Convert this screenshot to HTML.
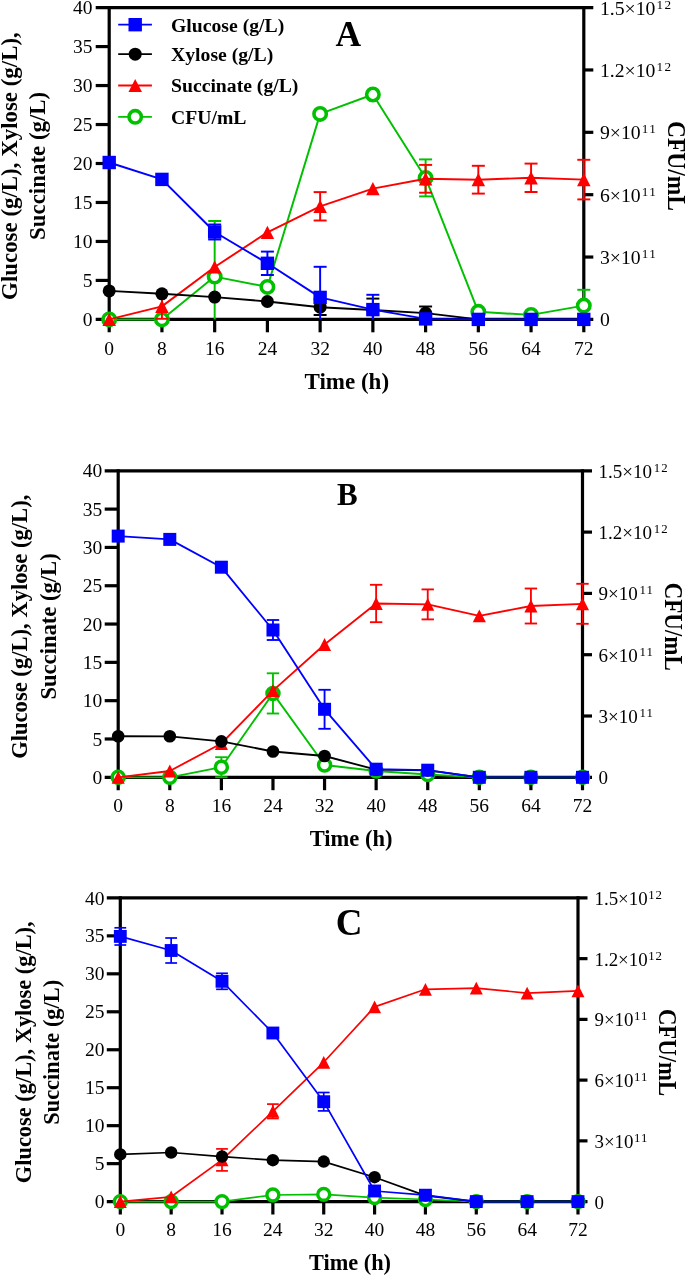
<!DOCTYPE html><html><head><meta charset="utf-8"><title>Fermentation time course</title><style>html,body{margin:0;padding:0;background:#fff;overflow:hidden}svg{display:block}text{font-family:'Liberation Serif', 'Times New Roman', serif}</style></head><body>
<svg width="685" height="1275" viewBox="0 0 685 1275">
<rect width="685" height="1275" fill="#fff"/>
<g>
<g stroke="#000" stroke-width="3.2" fill="none">
<line x1="109.2" y1="6" x2="109.2" y2="332.3"/>
<line x1="583.8" y1="6" x2="583.8" y2="332.3"/>
<line x1="95.7" y1="7.6" x2="593.3" y2="7.6"/>
<line x1="95.7" y1="319.4" x2="593.3" y2="319.4"/>
<line x1="95.7" y1="280.42" x2="109.2" y2="280.42"/>
<line x1="95.7" y1="241.45" x2="109.2" y2="241.45"/>
<line x1="95.7" y1="202.47" x2="109.2" y2="202.47"/>
<line x1="95.7" y1="163.5" x2="109.2" y2="163.5"/>
<line x1="95.7" y1="124.53" x2="109.2" y2="124.53"/>
<line x1="95.7" y1="85.55" x2="109.2" y2="85.55"/>
<line x1="95.7" y1="46.57" x2="109.2" y2="46.57"/>
<line x1="583.8" y1="257.04" x2="593.3" y2="257.04"/>
<line x1="583.8" y1="194.68" x2="593.3" y2="194.68"/>
<line x1="583.8" y1="132.32" x2="593.3" y2="132.32"/>
<line x1="583.8" y1="69.96" x2="593.3" y2="69.96"/>
<line x1="161.93" y1="319.4" x2="161.93" y2="332.3"/>
<line x1="214.67" y1="319.4" x2="214.67" y2="332.3"/>
<line x1="267.4" y1="319.4" x2="267.4" y2="332.3"/>
<line x1="320.13" y1="319.4" x2="320.13" y2="332.3"/>
<line x1="372.87" y1="319.4" x2="372.87" y2="332.3"/>
<line x1="425.6" y1="319.4" x2="425.6" y2="332.3"/>
<line x1="478.33" y1="319.4" x2="478.33" y2="332.3"/>
<line x1="531.07" y1="319.4" x2="531.07" y2="332.3"/>
</g>
<g font-size="19.5" text-anchor="end" fill="#000">
<text x="92.6" y="326">0</text>
<text x="92.6" y="287.02">5</text>
<text x="92.6" y="248.05">10</text>
<text x="92.6" y="209.07">15</text>
<text x="92.6" y="170.1">20</text>
<text x="92.6" y="131.12">25</text>
<text x="92.6" y="92.15">30</text>
<text x="92.6" y="53.17">35</text>
<text x="92.6" y="14.2">40</text>
</g>
<g font-size="19.5" text-anchor="middle" fill="#000">
<text x="109.2" y="354.7">0</text>
<text x="161.93" y="354.7">8</text>
<text x="214.67" y="354.7">16</text>
<text x="267.4" y="354.7">24</text>
<text x="320.13" y="354.7">32</text>
<text x="372.87" y="354.7">40</text>
<text x="425.6" y="354.7">48</text>
<text x="478.33" y="354.7">56</text>
<text x="531.07" y="354.7">64</text>
<text x="583.8" y="354.7">72</text>
</g>
<g font-size="19.7" fill="#000">
<text x="600" y="326.4">0</text>
<text x="600" y="264.04">3×10<tspan font-size="13.2" dy="-6" dx="1.2" letter-spacing="1.4">11</tspan></text>
<text x="600" y="201.68">6×10<tspan font-size="13.2" dy="-6" dx="1.2" letter-spacing="1.4">11</tspan></text>
<text x="600" y="139.32">9×10<tspan font-size="13.2" dy="-6" dx="1.2" letter-spacing="1.4">11</tspan></text>
<text x="600" y="76.96">1.2×10<tspan font-size="13.2" dy="-6" dx="1.2" letter-spacing="1.4">12</tspan></text>
<text x="600" y="14.6">1.5×10<tspan font-size="13.2" dy="-6" dx="1.2" letter-spacing="1.4">12</tspan></text>
</g>
<text x="346.8" y="389.3" font-size="23" font-weight="bold" text-anchor="middle">Time (h)</text>
<text x="348.3" y="45.8" font-size="35.5" font-weight="bold" text-anchor="middle">A</text>
<text transform="translate(16.6,166.05) rotate(-90)" font-size="22.9" font-weight="bold" text-anchor="middle">Glucose (g/L), Xylose (g/L),</text>
<text transform="translate(45,165.85) rotate(-90)" font-size="22.9" font-weight="bold" text-anchor="middle">Succinate (g/L)</text>
<text transform="translate(667.6,166) rotate(90) scale(1,1.07)" font-size="23.5" font-weight="bold" text-anchor="middle">CFU/mL</text>
<polyline points="109.2,319.4 161.93,319.4 214.67,276.6 267.4,286.9 320.13,113.9 372.87,94.5 425.6,177.9 478.33,311.8 531.07,314.9 583.8,305.6" fill="none" stroke="#00c000" stroke-width="1.95" stroke-linejoin="round"/>
<line x1="214.67" y1="221" x2="214.67" y2="319.4" stroke="#00c000" stroke-width="1.95"/>
<line x1="208.17" y1="221" x2="221.17" y2="221" stroke="#00c000" stroke-width="1.95"/>
<line x1="425.6" y1="159.4" x2="425.6" y2="196.4" stroke="#00c000" stroke-width="1.95"/>
<line x1="419.1" y1="159.4" x2="432.1" y2="159.4" stroke="#00c000" stroke-width="1.95"/>
<line x1="419.1" y1="196.4" x2="432.1" y2="196.4" stroke="#00c000" stroke-width="1.95"/>
<line x1="583.8" y1="289.8" x2="583.8" y2="319.4" stroke="#00c000" stroke-width="1.95"/>
<line x1="577.3" y1="289.8" x2="590.3" y2="289.8" stroke="#00c000" stroke-width="1.95"/>
<circle cx="109.2" cy="319.4" r="6.2" fill="#fff" stroke="#00c000" stroke-width="3.6"/>
<circle cx="161.93" cy="319.4" r="6.2" fill="#fff" stroke="#00c000" stroke-width="3.6"/>
<circle cx="214.67" cy="276.6" r="6.2" fill="#fff" stroke="#00c000" stroke-width="3.6"/>
<circle cx="267.4" cy="286.9" r="6.2" fill="#fff" stroke="#00c000" stroke-width="3.6"/>
<circle cx="320.13" cy="113.9" r="6.2" fill="#fff" stroke="#00c000" stroke-width="3.6"/>
<circle cx="372.87" cy="94.5" r="6.2" fill="#fff" stroke="#00c000" stroke-width="3.6"/>
<circle cx="425.6" cy="177.9" r="6.2" fill="#fff" stroke="#00c000" stroke-width="3.6"/>
<circle cx="478.33" cy="311.8" r="6.2" fill="#fff" stroke="#00c000" stroke-width="3.6"/>
<circle cx="531.07" cy="314.9" r="6.2" fill="#fff" stroke="#00c000" stroke-width="3.6"/>
<circle cx="583.8" cy="305.6" r="6.2" fill="#fff" stroke="#00c000" stroke-width="3.6"/>
<polyline points="109.2,319.4 161.93,306.4 214.67,267 267.4,232.4 320.13,206.3 372.87,188.6 425.6,178.8 478.33,179.7 531.07,177.8 583.8,179.6" fill="none" stroke="#ff0000" stroke-width="1.95" stroke-linejoin="round"/>
<line x1="161.93" y1="294" x2="161.93" y2="318.8" stroke="#ff0000" stroke-width="1.95"/>
<line x1="155.43" y1="294" x2="168.43" y2="294" stroke="#ff0000" stroke-width="1.95"/>
<line x1="155.43" y1="318.8" x2="168.43" y2="318.8" stroke="#ff0000" stroke-width="1.95"/>
<line x1="320.13" y1="192.1" x2="320.13" y2="220.5" stroke="#ff0000" stroke-width="1.95"/>
<line x1="313.63" y1="192.1" x2="326.63" y2="192.1" stroke="#ff0000" stroke-width="1.95"/>
<line x1="313.63" y1="220.5" x2="326.63" y2="220.5" stroke="#ff0000" stroke-width="1.95"/>
<line x1="425.6" y1="164.9" x2="425.6" y2="192.7" stroke="#ff0000" stroke-width="1.95"/>
<line x1="419.1" y1="164.9" x2="432.1" y2="164.9" stroke="#ff0000" stroke-width="1.95"/>
<line x1="419.1" y1="192.7" x2="432.1" y2="192.7" stroke="#ff0000" stroke-width="1.95"/>
<line x1="478.33" y1="165.8" x2="478.33" y2="193.6" stroke="#ff0000" stroke-width="1.95"/>
<line x1="471.83" y1="165.8" x2="484.83" y2="165.8" stroke="#ff0000" stroke-width="1.95"/>
<line x1="471.83" y1="193.6" x2="484.83" y2="193.6" stroke="#ff0000" stroke-width="1.95"/>
<line x1="531.07" y1="163.6" x2="531.07" y2="192" stroke="#ff0000" stroke-width="1.95"/>
<line x1="524.57" y1="163.6" x2="537.57" y2="163.6" stroke="#ff0000" stroke-width="1.95"/>
<line x1="524.57" y1="192" x2="537.57" y2="192" stroke="#ff0000" stroke-width="1.95"/>
<line x1="583.8" y1="159.8" x2="583.8" y2="199.4" stroke="#ff0000" stroke-width="1.95"/>
<line x1="577.3" y1="159.8" x2="590.3" y2="159.8" stroke="#ff0000" stroke-width="1.95"/>
<line x1="577.3" y1="199.4" x2="590.3" y2="199.4" stroke="#ff0000" stroke-width="1.95"/>
<polygon points="109.2,312.8 115.95,326 102.45,326" fill="#ff0000"/>
<polygon points="161.93,299.8 168.68,313 155.18,313" fill="#ff0000"/>
<polygon points="214.67,260.4 221.42,273.6 207.92,273.6" fill="#ff0000"/>
<polygon points="267.4,225.8 274.15,239 260.65,239" fill="#ff0000"/>
<polygon points="320.13,199.7 326.88,212.9 313.38,212.9" fill="#ff0000"/>
<polygon points="372.87,182 379.62,195.2 366.12,195.2" fill="#ff0000"/>
<polygon points="425.6,172.2 432.35,185.4 418.85,185.4" fill="#ff0000"/>
<polygon points="478.33,173.1 485.08,186.3 471.58,186.3" fill="#ff0000"/>
<polygon points="531.07,171.2 537.82,184.4 524.32,184.4" fill="#ff0000"/>
<polygon points="583.8,173 590.55,186.2 577.05,186.2" fill="#ff0000"/>
<polyline points="109.2,290.9 161.93,293.8 214.67,297.1 267.4,301.5 320.13,307.2 372.87,310 425.6,313.1 478.33,319.4 531.07,319.4 583.8,319.4" fill="none" stroke="#000000" stroke-width="1.95" stroke-linejoin="round"/>
<line x1="320.13" y1="299.4" x2="320.13" y2="315" stroke="#000000" stroke-width="1.95"/>
<line x1="313.63" y1="299.4" x2="326.63" y2="299.4" stroke="#000000" stroke-width="1.95"/>
<line x1="313.63" y1="315" x2="326.63" y2="315" stroke="#000000" stroke-width="1.95"/>
<line x1="372.87" y1="298.6" x2="372.87" y2="319.4" stroke="#000000" stroke-width="1.95"/>
<line x1="366.37" y1="298.6" x2="379.37" y2="298.6" stroke="#000000" stroke-width="1.95"/>
<line x1="425.6" y1="306.5" x2="425.6" y2="319.4" stroke="#000000" stroke-width="1.95"/>
<line x1="419.1" y1="306.5" x2="432.1" y2="306.5" stroke="#000000" stroke-width="1.95"/>
<circle cx="109.2" cy="290.9" r="6.5" fill="#000000"/>
<circle cx="161.93" cy="293.8" r="6.5" fill="#000000"/>
<circle cx="214.67" cy="297.1" r="6.5" fill="#000000"/>
<circle cx="267.4" cy="301.5" r="6.5" fill="#000000"/>
<circle cx="320.13" cy="307.2" r="6.5" fill="#000000"/>
<circle cx="372.87" cy="310" r="6.5" fill="#000000"/>
<circle cx="425.6" cy="313.1" r="6.5" fill="#000000"/>
<circle cx="478.33" cy="319.4" r="6.5" fill="#000000"/>
<circle cx="531.07" cy="319.4" r="6.5" fill="#000000"/>
<circle cx="583.8" cy="319.4" r="6.5" fill="#000000"/>
<polyline points="109.2,162.5 161.93,179.4 214.67,232 267.4,263.3 320.13,297.4 372.87,309.6 425.6,318.9 478.33,319.4 531.07,319.4 583.8,319.4" fill="none" stroke="#0000ff" stroke-width="1.95" stroke-linejoin="round"/>
<line x1="214.67" y1="224.5" x2="214.67" y2="239.5" stroke="#0000ff" stroke-width="1.95"/>
<line x1="208.17" y1="224.5" x2="221.17" y2="224.5" stroke="#0000ff" stroke-width="1.95"/>
<line x1="208.17" y1="239.5" x2="221.17" y2="239.5" stroke="#0000ff" stroke-width="1.95"/>
<line x1="267.4" y1="251.6" x2="267.4" y2="275" stroke="#0000ff" stroke-width="1.95"/>
<line x1="260.9" y1="251.6" x2="273.9" y2="251.6" stroke="#0000ff" stroke-width="1.95"/>
<line x1="260.9" y1="275" x2="273.9" y2="275" stroke="#0000ff" stroke-width="1.95"/>
<line x1="320.13" y1="266.8" x2="320.13" y2="319.4" stroke="#0000ff" stroke-width="1.95"/>
<line x1="313.63" y1="266.8" x2="326.63" y2="266.8" stroke="#0000ff" stroke-width="1.95"/>
<line x1="372.87" y1="294.8" x2="372.87" y2="319.4" stroke="#0000ff" stroke-width="1.95"/>
<line x1="366.37" y1="294.8" x2="379.37" y2="294.8" stroke="#0000ff" stroke-width="1.95"/>
<rect x="102.5" y="155.8" width="13.4" height="13.4" fill="#0000ff"/>
<rect x="155.23" y="172.7" width="13.4" height="13.4" fill="#0000ff"/>
<rect x="207.97" y="225.3" width="13.4" height="13.4" fill="#0000ff"/>
<rect x="260.7" y="256.6" width="13.4" height="13.4" fill="#0000ff"/>
<rect x="313.43" y="290.7" width="13.4" height="13.4" fill="#0000ff"/>
<rect x="366.17" y="302.9" width="13.4" height="13.4" fill="#0000ff"/>
<rect x="418.9" y="312.2" width="13.4" height="13.4" fill="#0000ff"/>
<rect x="471.63" y="312.7" width="13.4" height="13.4" fill="#0000ff"/>
<rect x="524.37" y="312.7" width="13.4" height="13.4" fill="#0000ff"/>
<rect x="577.1" y="312.7" width="13.4" height="13.4" fill="#0000ff"/>
<line x1="118.2" y1="24.7" x2="151.9" y2="24.7" stroke="#0000ff" stroke-width="1.8"/>
<rect x="128.5" y="18" width="13.4" height="13.4" fill="#0000ff"/>
<text x="171" y="31.5" font-size="19.7" font-weight="bold">Glucose (g/L)</text>
<line x1="118.2" y1="54.2" x2="151.9" y2="54.2" stroke="#000000" stroke-width="1.8"/>
<circle cx="135.2" cy="54.2" r="6.5" fill="#000000"/>
<text x="171" y="61" font-size="19.7" font-weight="bold">Xylose (g/L)</text>
<line x1="118.2" y1="85.5" x2="151.9" y2="85.5" stroke="#ff0000" stroke-width="1.8"/>
<polygon points="135.2,78.9 141.95,92.1 128.45,92.1" fill="#ff0000"/>
<text x="171" y="92.3" font-size="19.7" font-weight="bold">Succinate (g/L)</text>
<line x1="118.2" y1="116.8" x2="151.9" y2="116.8" stroke="#00c000" stroke-width="1.8"/>
<circle cx="135.2" cy="116.8" r="6.2" fill="#fff" stroke="#00c000" stroke-width="3.6"/>
<text x="171" y="123.6" font-size="19.7" font-weight="bold">CFU/mL</text>
</g>
<g>
<g stroke="#000" stroke-width="3.2" fill="none">
<line x1="118.2" y1="469.2" x2="118.2" y2="790.2"/>
<line x1="582.5" y1="469.2" x2="582.5" y2="790.2"/>
<line x1="104.7" y1="470.8" x2="592" y2="470.8"/>
<line x1="104.7" y1="777.3" x2="592" y2="777.3"/>
<line x1="104.7" y1="738.99" x2="118.2" y2="738.99"/>
<line x1="104.7" y1="700.67" x2="118.2" y2="700.67"/>
<line x1="104.7" y1="662.36" x2="118.2" y2="662.36"/>
<line x1="104.7" y1="624.05" x2="118.2" y2="624.05"/>
<line x1="104.7" y1="585.74" x2="118.2" y2="585.74"/>
<line x1="104.7" y1="547.42" x2="118.2" y2="547.42"/>
<line x1="104.7" y1="509.11" x2="118.2" y2="509.11"/>
<line x1="582.5" y1="716" x2="592" y2="716"/>
<line x1="582.5" y1="654.7" x2="592" y2="654.7"/>
<line x1="582.5" y1="593.4" x2="592" y2="593.4"/>
<line x1="582.5" y1="532.1" x2="592" y2="532.1"/>
<line x1="169.79" y1="777.3" x2="169.79" y2="790.2"/>
<line x1="221.38" y1="777.3" x2="221.38" y2="790.2"/>
<line x1="272.97" y1="777.3" x2="272.97" y2="790.2"/>
<line x1="324.56" y1="777.3" x2="324.56" y2="790.2"/>
<line x1="376.14" y1="777.3" x2="376.14" y2="790.2"/>
<line x1="427.73" y1="777.3" x2="427.73" y2="790.2"/>
<line x1="479.32" y1="777.3" x2="479.32" y2="790.2"/>
<line x1="530.91" y1="777.3" x2="530.91" y2="790.2"/>
</g>
<g font-size="19.5" text-anchor="end" fill="#000">
<text x="102.3" y="783.9">0</text>
<text x="102.3" y="745.59">5</text>
<text x="102.3" y="707.27">10</text>
<text x="102.3" y="668.96">15</text>
<text x="102.3" y="630.65">20</text>
<text x="102.3" y="592.34">25</text>
<text x="102.3" y="554.02">30</text>
<text x="102.3" y="515.71">35</text>
<text x="102.3" y="477.4">40</text>
</g>
<g font-size="19.5" text-anchor="middle" fill="#000">
<text x="118.2" y="812">0</text>
<text x="169.79" y="812">8</text>
<text x="221.38" y="812">16</text>
<text x="272.97" y="812">24</text>
<text x="324.56" y="812">32</text>
<text x="376.14" y="812">40</text>
<text x="427.73" y="812">48</text>
<text x="479.32" y="812">56</text>
<text x="530.91" y="812">64</text>
<text x="582.5" y="812">72</text>
</g>
<g font-size="19" fill="#000">
<text x="598.5" y="784.3">0</text>
<text x="598.5" y="723">3×10<tspan font-size="12.8" dy="-6" dx="1.8" letter-spacing="1">11</tspan></text>
<text x="598.5" y="661.7">6×10<tspan font-size="12.8" dy="-6" dx="1.8" letter-spacing="1">11</tspan></text>
<text x="598.5" y="600.4">9×10<tspan font-size="12.8" dy="-6" dx="1.8" letter-spacing="1">11</tspan></text>
<text x="598.5" y="539.1">1.2×10<tspan font-size="12.8" dy="-6" dx="1.8" letter-spacing="1">12</tspan></text>
<text x="598.5" y="477.8">1.5×10<tspan font-size="12.8" dy="-6" dx="1.8" letter-spacing="1">12</tspan></text>
</g>
<text x="351.1" y="846.2" font-size="22.5" font-weight="bold" text-anchor="middle">Time (h)</text>
<text x="347.4" y="504.8" font-size="31" font-weight="bold" text-anchor="middle">B</text>
<text transform="translate(27,626.75) rotate(-90)" font-size="22.6" font-weight="bold" text-anchor="middle">Glucose (g/L), Xylose (g/L),</text>
<text transform="translate(56.1,626.45) rotate(-90)" font-size="22.6" font-weight="bold" text-anchor="middle">Succinate (g/L)</text>
<text transform="translate(664.9,626.7) rotate(90) scale(1,1.07)" font-size="23" font-weight="bold" text-anchor="middle">CFU/mL</text>
<polyline points="118.2,777.3 169.79,777.3 221.38,767.2 272.97,693.4 324.56,765 376.14,771 427.73,774.5 479.32,777.3 530.91,777.3 582.5,777.3" fill="none" stroke="#00c000" stroke-width="1.85" stroke-linejoin="round"/>
<line x1="221.38" y1="757.2" x2="221.38" y2="777.2" stroke="#00c000" stroke-width="1.85"/>
<line x1="215.18" y1="757.2" x2="227.58" y2="757.2" stroke="#00c000" stroke-width="1.85"/>
<line x1="215.18" y1="777.2" x2="227.58" y2="777.2" stroke="#00c000" stroke-width="1.85"/>
<line x1="272.97" y1="673.3" x2="272.97" y2="713.5" stroke="#00c000" stroke-width="1.85"/>
<line x1="266.77" y1="673.3" x2="279.17" y2="673.3" stroke="#00c000" stroke-width="1.85"/>
<line x1="266.77" y1="713.5" x2="279.17" y2="713.5" stroke="#00c000" stroke-width="1.85"/>
<circle cx="118.2" cy="777.3" r="6.01" fill="#fff" stroke="#00c000" stroke-width="3.49"/>
<circle cx="169.79" cy="777.3" r="6.01" fill="#fff" stroke="#00c000" stroke-width="3.49"/>
<circle cx="221.38" cy="767.2" r="6.01" fill="#fff" stroke="#00c000" stroke-width="3.49"/>
<circle cx="272.97" cy="693.4" r="6.01" fill="#fff" stroke="#00c000" stroke-width="3.49"/>
<circle cx="324.56" cy="765" r="6.01" fill="#fff" stroke="#00c000" stroke-width="3.49"/>
<circle cx="376.14" cy="771" r="6.01" fill="#fff" stroke="#00c000" stroke-width="3.49"/>
<circle cx="427.73" cy="774.5" r="6.01" fill="#fff" stroke="#00c000" stroke-width="3.49"/>
<circle cx="479.32" cy="777.3" r="6.01" fill="#fff" stroke="#00c000" stroke-width="3.49"/>
<circle cx="530.91" cy="777.3" r="6.01" fill="#fff" stroke="#00c000" stroke-width="3.49"/>
<circle cx="582.5" cy="777.3" r="6.01" fill="#fff" stroke="#00c000" stroke-width="3.49"/>
<polyline points="118.2,777.3 169.79,771 221.38,743.5 272.97,690.6 324.56,644.5 376.14,603.5 427.73,604.4 479.32,615.8 530.91,606 582.5,603.8" fill="none" stroke="#ff0000" stroke-width="1.85" stroke-linejoin="round"/>
<line x1="376.14" y1="584.8" x2="376.14" y2="622.2" stroke="#ff0000" stroke-width="1.85"/>
<line x1="369.94" y1="584.8" x2="382.34" y2="584.8" stroke="#ff0000" stroke-width="1.85"/>
<line x1="369.94" y1="622.2" x2="382.34" y2="622.2" stroke="#ff0000" stroke-width="1.85"/>
<line x1="427.73" y1="589.4" x2="427.73" y2="619.4" stroke="#ff0000" stroke-width="1.85"/>
<line x1="421.53" y1="589.4" x2="433.93" y2="589.4" stroke="#ff0000" stroke-width="1.85"/>
<line x1="421.53" y1="619.4" x2="433.93" y2="619.4" stroke="#ff0000" stroke-width="1.85"/>
<line x1="530.91" y1="588.5" x2="530.91" y2="623.5" stroke="#ff0000" stroke-width="1.85"/>
<line x1="524.71" y1="588.5" x2="537.11" y2="588.5" stroke="#ff0000" stroke-width="1.85"/>
<line x1="524.71" y1="623.5" x2="537.11" y2="623.5" stroke="#ff0000" stroke-width="1.85"/>
<line x1="582.5" y1="583.8" x2="582.5" y2="623.8" stroke="#ff0000" stroke-width="1.85"/>
<line x1="576.3" y1="583.8" x2="588.7" y2="583.8" stroke="#ff0000" stroke-width="1.85"/>
<line x1="576.3" y1="623.8" x2="588.7" y2="623.8" stroke="#ff0000" stroke-width="1.85"/>
<polygon points="118.2,770.9 124.75,783.7 111.65,783.7" fill="#ff0000"/>
<polygon points="169.79,764.6 176.34,777.4 163.24,777.4" fill="#ff0000"/>
<polygon points="221.38,737.1 227.93,749.9 214.83,749.9" fill="#ff0000"/>
<polygon points="272.97,684.2 279.51,697 266.42,697" fill="#ff0000"/>
<polygon points="324.56,638.1 331.1,650.9 318.01,650.9" fill="#ff0000"/>
<polygon points="376.14,597.1 382.69,609.9 369.6,609.9" fill="#ff0000"/>
<polygon points="427.73,598 434.28,610.8 421.19,610.8" fill="#ff0000"/>
<polygon points="479.32,609.4 485.87,622.2 472.77,622.2" fill="#ff0000"/>
<polygon points="530.91,599.6 537.46,612.4 524.36,612.4" fill="#ff0000"/>
<polygon points="582.5,597.4 589.05,610.2 575.95,610.2" fill="#ff0000"/>
<polyline points="118.2,736.2 169.79,736.3 221.38,741.4 272.97,751.5 324.56,756 376.14,769.7 427.73,770.4 479.32,777.3 530.91,777.3 582.5,777.3" fill="none" stroke="#000000" stroke-width="1.85" stroke-linejoin="round"/>
<circle cx="118.2" cy="736.2" r="6.3" fill="#000000"/>
<circle cx="169.79" cy="736.3" r="6.3" fill="#000000"/>
<circle cx="221.38" cy="741.4" r="6.3" fill="#000000"/>
<circle cx="272.97" cy="751.5" r="6.3" fill="#000000"/>
<circle cx="324.56" cy="756" r="6.3" fill="#000000"/>
<circle cx="376.14" cy="769.7" r="6.3" fill="#000000"/>
<circle cx="427.73" cy="770.4" r="6.3" fill="#000000"/>
<circle cx="479.32" cy="777.3" r="6.3" fill="#000000"/>
<circle cx="530.91" cy="777.3" r="6.3" fill="#000000"/>
<circle cx="582.5" cy="777.3" r="6.3" fill="#000000"/>
<polyline points="118.2,536.1 169.79,539.4 221.38,567.2 272.97,630 324.56,709.3 376.14,769.2 427.73,770.2 479.32,777.3 530.91,777.3 582.5,777.3" fill="none" stroke="#0000ff" stroke-width="1.85" stroke-linejoin="round"/>
<line x1="272.97" y1="620" x2="272.97" y2="640" stroke="#0000ff" stroke-width="1.85"/>
<line x1="266.77" y1="620" x2="279.17" y2="620" stroke="#0000ff" stroke-width="1.85"/>
<line x1="266.77" y1="640" x2="279.17" y2="640" stroke="#0000ff" stroke-width="1.85"/>
<line x1="324.56" y1="689.8" x2="324.56" y2="728.8" stroke="#0000ff" stroke-width="1.85"/>
<line x1="318.36" y1="689.8" x2="330.76" y2="689.8" stroke="#0000ff" stroke-width="1.85"/>
<line x1="318.36" y1="728.8" x2="330.76" y2="728.8" stroke="#0000ff" stroke-width="1.85"/>
<rect x="111.7" y="529.6" width="13" height="13" fill="#0000ff"/>
<rect x="163.29" y="532.9" width="13" height="13" fill="#0000ff"/>
<rect x="214.88" y="560.7" width="13" height="13" fill="#0000ff"/>
<rect x="266.47" y="623.5" width="13" height="13" fill="#0000ff"/>
<rect x="318.06" y="702.8" width="13" height="13" fill="#0000ff"/>
<rect x="369.65" y="762.7" width="13" height="13" fill="#0000ff"/>
<rect x="421.23" y="763.7" width="13" height="13" fill="#0000ff"/>
<rect x="472.82" y="770.8" width="13" height="13" fill="#0000ff"/>
<rect x="524.41" y="770.8" width="13" height="13" fill="#0000ff"/>
<rect x="576" y="770.8" width="13" height="13" fill="#0000ff"/>
</g>
<g>
<g stroke="#000" stroke-width="3.2" fill="none">
<line x1="120.3" y1="896.3" x2="120.3" y2="1214.5"/>
<line x1="578" y1="896.3" x2="578" y2="1214.5"/>
<line x1="106.8" y1="897.9" x2="587.5" y2="897.9"/>
<line x1="106.8" y1="1201.6" x2="587.5" y2="1201.6"/>
<line x1="106.8" y1="1163.64" x2="120.3" y2="1163.64"/>
<line x1="106.8" y1="1125.67" x2="120.3" y2="1125.67"/>
<line x1="106.8" y1="1087.71" x2="120.3" y2="1087.71"/>
<line x1="106.8" y1="1049.75" x2="120.3" y2="1049.75"/>
<line x1="106.8" y1="1011.79" x2="120.3" y2="1011.79"/>
<line x1="106.8" y1="973.82" x2="120.3" y2="973.82"/>
<line x1="106.8" y1="935.86" x2="120.3" y2="935.86"/>
<line x1="578" y1="1140.86" x2="587.5" y2="1140.86"/>
<line x1="578" y1="1080.12" x2="587.5" y2="1080.12"/>
<line x1="578" y1="1019.38" x2="587.5" y2="1019.38"/>
<line x1="578" y1="958.64" x2="587.5" y2="958.64"/>
<line x1="171.16" y1="1201.6" x2="171.16" y2="1214.5"/>
<line x1="222.01" y1="1201.6" x2="222.01" y2="1214.5"/>
<line x1="272.87" y1="1201.6" x2="272.87" y2="1214.5"/>
<line x1="323.72" y1="1201.6" x2="323.72" y2="1214.5"/>
<line x1="374.58" y1="1201.6" x2="374.58" y2="1214.5"/>
<line x1="425.43" y1="1201.6" x2="425.43" y2="1214.5"/>
<line x1="476.29" y1="1201.6" x2="476.29" y2="1214.5"/>
<line x1="527.14" y1="1201.6" x2="527.14" y2="1214.5"/>
</g>
<g font-size="19.5" text-anchor="end" fill="#000">
<text x="104.6" y="1208.2">0</text>
<text x="104.6" y="1170.24">5</text>
<text x="104.6" y="1132.27">10</text>
<text x="104.6" y="1094.31">15</text>
<text x="104.6" y="1056.35">20</text>
<text x="104.6" y="1018.39">25</text>
<text x="104.6" y="980.42">30</text>
<text x="104.6" y="942.46">35</text>
<text x="104.6" y="904.5">40</text>
</g>
<g font-size="19.5" text-anchor="middle" fill="#000">
<text x="120.3" y="1235.7">0</text>
<text x="171.16" y="1235.7">8</text>
<text x="222.01" y="1235.7">16</text>
<text x="272.87" y="1235.7">24</text>
<text x="323.72" y="1235.7">32</text>
<text x="374.58" y="1235.7">40</text>
<text x="425.43" y="1235.7">48</text>
<text x="476.29" y="1235.7">56</text>
<text x="527.14" y="1235.7">64</text>
<text x="578" y="1235.7">72</text>
</g>
<g font-size="18.9" fill="#000">
<text x="594.5" y="1208.6">0</text>
<text x="594.5" y="1147.86">3×10<tspan font-size="12.8" dy="-6" dx="0.5" letter-spacing="1">11</tspan></text>
<text x="594.5" y="1087.12">6×10<tspan font-size="12.8" dy="-6" dx="0.5" letter-spacing="1">11</tspan></text>
<text x="594.5" y="1026.38">9×10<tspan font-size="12.8" dy="-6" dx="0.5" letter-spacing="1">11</tspan></text>
<text x="594.5" y="965.64">1.2×10<tspan font-size="12.8" dy="-6" dx="0.5" letter-spacing="1">12</tspan></text>
<text x="594.5" y="904.9">1.5×10<tspan font-size="12.8" dy="-6" dx="0.5" letter-spacing="1">12</tspan></text>
</g>
<text x="350" y="1270" font-size="22.3" font-weight="bold" text-anchor="middle">Time (h)</text>
<text x="349" y="935.3" font-size="37" font-weight="bold" text-anchor="middle">C</text>
<text transform="translate(30.5,1052.3) rotate(-90)" font-size="22.4" font-weight="bold" text-anchor="middle">Glucose (g/L), Xylose (g/L),</text>
<text transform="translate(58.5,1052.3) rotate(-90)" font-size="22.4" font-weight="bold" text-anchor="middle">Succinate (g/L)</text>
<text transform="translate(659.2,1052.6) rotate(90) scale(1,1.07)" font-size="22.8" font-weight="bold" text-anchor="middle">CFU/mL</text>
<polyline points="120.3,1201.6 171.16,1201.6 222.01,1201.6 272.87,1195 323.72,1194.4 374.58,1197.6 425.43,1199.5 476.29,1201.6 527.14,1201.6 578,1201.6" fill="none" stroke="#00c000" stroke-width="1.7" stroke-linejoin="round"/>
<circle cx="120.3" cy="1201.6" r="5.95" fill="#fff" stroke="#00c000" stroke-width="3.46"/>
<circle cx="171.16" cy="1201.6" r="5.95" fill="#fff" stroke="#00c000" stroke-width="3.46"/>
<circle cx="222.01" cy="1201.6" r="5.95" fill="#fff" stroke="#00c000" stroke-width="3.46"/>
<circle cx="272.87" cy="1195" r="5.95" fill="#fff" stroke="#00c000" stroke-width="3.46"/>
<circle cx="323.72" cy="1194.4" r="5.95" fill="#fff" stroke="#00c000" stroke-width="3.46"/>
<circle cx="374.58" cy="1197.6" r="5.95" fill="#fff" stroke="#00c000" stroke-width="3.46"/>
<circle cx="425.43" cy="1199.5" r="5.95" fill="#fff" stroke="#00c000" stroke-width="3.46"/>
<circle cx="476.29" cy="1201.6" r="5.95" fill="#fff" stroke="#00c000" stroke-width="3.46"/>
<circle cx="527.14" cy="1201.6" r="5.95" fill="#fff" stroke="#00c000" stroke-width="3.46"/>
<circle cx="578" cy="1201.6" r="5.95" fill="#fff" stroke="#00c000" stroke-width="3.46"/>
<polyline points="120.3,1201.6 171.16,1196.8 222.01,1159.9 272.87,1111.3 323.72,1062.3 374.58,1006.9 425.43,989.3 476.29,988.2 527.14,993.1 578,990.9" fill="none" stroke="#ff0000" stroke-width="1.7" stroke-linejoin="round"/>
<line x1="222.01" y1="1148.9" x2="222.01" y2="1170.9" stroke="#ff0000" stroke-width="1.7"/>
<line x1="216.11" y1="1148.9" x2="227.91" y2="1148.9" stroke="#ff0000" stroke-width="1.7"/>
<line x1="216.11" y1="1170.9" x2="227.91" y2="1170.9" stroke="#ff0000" stroke-width="1.7"/>
<line x1="272.87" y1="1104.1" x2="272.87" y2="1118.5" stroke="#ff0000" stroke-width="1.7"/>
<line x1="266.97" y1="1104.1" x2="278.77" y2="1104.1" stroke="#ff0000" stroke-width="1.7"/>
<line x1="266.97" y1="1118.5" x2="278.77" y2="1118.5" stroke="#ff0000" stroke-width="1.7"/>
<polygon points="120.3,1195.26 126.78,1207.94 113.82,1207.94" fill="#ff0000"/>
<polygon points="171.16,1190.46 177.64,1203.14 164.68,1203.14" fill="#ff0000"/>
<polygon points="222.01,1153.56 228.49,1166.24 215.53,1166.24" fill="#ff0000"/>
<polygon points="272.87,1104.96 279.35,1117.64 266.39,1117.64" fill="#ff0000"/>
<polygon points="323.72,1055.96 330.2,1068.64 317.24,1068.64" fill="#ff0000"/>
<polygon points="374.58,1000.56 381.06,1013.24 368.1,1013.24" fill="#ff0000"/>
<polygon points="425.43,982.96 431.91,995.64 418.95,995.64" fill="#ff0000"/>
<polygon points="476.29,981.86 482.77,994.54 469.81,994.54" fill="#ff0000"/>
<polygon points="527.14,986.76 533.62,999.44 520.66,999.44" fill="#ff0000"/>
<polygon points="578,984.56 584.48,997.24 571.52,997.24" fill="#ff0000"/>
<polyline points="120.3,1154.4 171.16,1152.5 222.01,1156.6 272.87,1160.2 323.72,1161.6 374.58,1177.2 425.43,1195.6 476.29,1201.6 527.14,1201.6 578,1201.6" fill="none" stroke="#000000" stroke-width="1.7" stroke-linejoin="round"/>
<circle cx="120.3" cy="1154.4" r="6.24" fill="#000000"/>
<circle cx="171.16" cy="1152.5" r="6.24" fill="#000000"/>
<circle cx="222.01" cy="1156.6" r="6.24" fill="#000000"/>
<circle cx="272.87" cy="1160.2" r="6.24" fill="#000000"/>
<circle cx="323.72" cy="1161.6" r="6.24" fill="#000000"/>
<circle cx="374.58" cy="1177.2" r="6.24" fill="#000000"/>
<circle cx="425.43" cy="1195.6" r="6.24" fill="#000000"/>
<circle cx="476.29" cy="1201.6" r="6.24" fill="#000000"/>
<circle cx="527.14" cy="1201.6" r="6.24" fill="#000000"/>
<circle cx="578" cy="1201.6" r="6.24" fill="#000000"/>
<polyline points="120.3,936.4 171.16,950.5 222.01,981.3 272.87,1033 323.72,1101.7 374.58,1191 425.43,1195.2 476.29,1201.6 527.14,1201.6 578,1201.6" fill="none" stroke="#0000ff" stroke-width="1.7" stroke-linejoin="round"/>
<line x1="120.3" y1="927.8" x2="120.3" y2="945" stroke="#0000ff" stroke-width="1.7"/>
<line x1="114.4" y1="927.8" x2="126.2" y2="927.8" stroke="#0000ff" stroke-width="1.7"/>
<line x1="114.4" y1="945" x2="126.2" y2="945" stroke="#0000ff" stroke-width="1.7"/>
<line x1="171.16" y1="938" x2="171.16" y2="963" stroke="#0000ff" stroke-width="1.7"/>
<line x1="165.26" y1="938" x2="177.06" y2="938" stroke="#0000ff" stroke-width="1.7"/>
<line x1="165.26" y1="963" x2="177.06" y2="963" stroke="#0000ff" stroke-width="1.7"/>
<line x1="222.01" y1="973.3" x2="222.01" y2="989.3" stroke="#0000ff" stroke-width="1.7"/>
<line x1="216.11" y1="973.3" x2="227.91" y2="973.3" stroke="#0000ff" stroke-width="1.7"/>
<line x1="216.11" y1="989.3" x2="227.91" y2="989.3" stroke="#0000ff" stroke-width="1.7"/>
<line x1="323.72" y1="1092.5" x2="323.72" y2="1110.9" stroke="#0000ff" stroke-width="1.7"/>
<line x1="317.82" y1="1092.5" x2="329.62" y2="1092.5" stroke="#0000ff" stroke-width="1.7"/>
<line x1="317.82" y1="1110.9" x2="329.62" y2="1110.9" stroke="#0000ff" stroke-width="1.7"/>
<rect x="113.87" y="929.97" width="12.86" height="12.86" fill="#0000ff"/>
<rect x="164.72" y="944.07" width="12.86" height="12.86" fill="#0000ff"/>
<rect x="215.58" y="974.87" width="12.86" height="12.86" fill="#0000ff"/>
<rect x="266.43" y="1026.57" width="12.86" height="12.86" fill="#0000ff"/>
<rect x="317.29" y="1095.27" width="12.86" height="12.86" fill="#0000ff"/>
<rect x="368.15" y="1184.57" width="12.86" height="12.86" fill="#0000ff"/>
<rect x="419" y="1188.77" width="12.86" height="12.86" fill="#0000ff"/>
<rect x="469.86" y="1195.17" width="12.86" height="12.86" fill="#0000ff"/>
<rect x="520.71" y="1195.17" width="12.86" height="12.86" fill="#0000ff"/>
<rect x="571.57" y="1195.17" width="12.86" height="12.86" fill="#0000ff"/>
</g>
</svg></body></html>
